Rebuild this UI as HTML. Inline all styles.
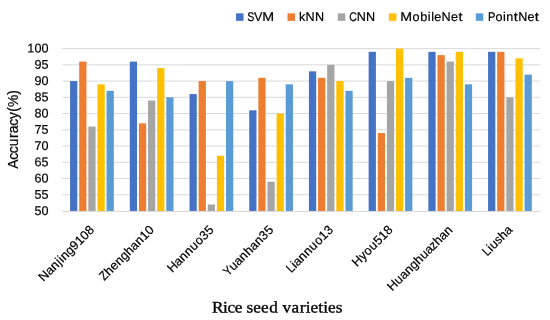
<!DOCTYPE html>
<html lang="en">
<head>
<meta charset="utf-8">
<title>Accuracy by rice seed variety</title>
<style>
html,body{margin:0;padding:0;background:#fff;}
body{width:550px;height:320px;overflow:hidden;}
svg{display:block;}
.t{font-family:"Liberation Sans",sans-serif;fill:#000;stroke:#000;stroke-width:0.2px;}
.s{font-family:"Liberation Serif",serif;fill:#000;stroke:#000;stroke-width:0.35px;}
</style>
</head>
<body>
<svg width="550" height="320" viewBox="0 0 550 320">
<rect width="550" height="320" fill="#ffffff"/>
<g stroke="#D9D9D9" stroke-width="1">
<line x1="62.30" y1="194.76" x2="540.00" y2="194.76"/>
<line x1="62.30" y1="178.52" x2="540.00" y2="178.52"/>
<line x1="62.30" y1="162.28" x2="540.00" y2="162.28"/>
<line x1="62.30" y1="146.04" x2="540.00" y2="146.04"/>
<line x1="62.30" y1="129.80" x2="540.00" y2="129.80"/>
<line x1="62.30" y1="113.56" x2="540.00" y2="113.56"/>
<line x1="62.30" y1="97.32" x2="540.00" y2="97.32"/>
<line x1="62.30" y1="81.08" x2="540.00" y2="81.08"/>
<line x1="62.30" y1="64.84" x2="540.00" y2="64.84"/>
<line x1="62.30" y1="48.60" x2="540.00" y2="48.60"/>
</g>
<g>
<rect x="70.08" y="81.08" width="7.25" height="129.92" fill="#4472C4"/>
<rect x="79.21" y="61.59" width="7.25" height="149.41" fill="#ED7D31"/>
<rect x="88.33" y="126.55" width="7.25" height="84.45" fill="#A5A5A5"/>
<rect x="97.46" y="84.33" width="7.25" height="126.67" fill="#FFC000"/>
<rect x="106.58" y="90.82" width="7.25" height="120.18" fill="#5B9BD5"/>
</g>
<g>
<rect x="129.79" y="61.59" width="7.25" height="149.41" fill="#4472C4"/>
<rect x="138.92" y="123.30" width="7.25" height="87.70" fill="#ED7D31"/>
<rect x="148.04" y="100.57" width="7.25" height="110.43" fill="#A5A5A5"/>
<rect x="157.17" y="68.09" width="7.25" height="142.91" fill="#FFC000"/>
<rect x="166.29" y="97.32" width="7.25" height="113.68" fill="#5B9BD5"/>
</g>
<g>
<rect x="189.51" y="94.07" width="7.25" height="116.93" fill="#4472C4"/>
<rect x="198.63" y="81.08" width="7.25" height="129.92" fill="#ED7D31"/>
<rect x="207.76" y="204.50" width="7.25" height="6.50" fill="#A5A5A5"/>
<rect x="216.88" y="155.78" width="7.25" height="55.22" fill="#FFC000"/>
<rect x="226.01" y="81.08" width="7.25" height="129.92" fill="#5B9BD5"/>
</g>
<g>
<rect x="249.22" y="110.31" width="7.25" height="100.69" fill="#4472C4"/>
<rect x="258.34" y="77.83" width="7.25" height="133.17" fill="#ED7D31"/>
<rect x="267.47" y="181.77" width="7.25" height="29.23" fill="#A5A5A5"/>
<rect x="276.59" y="113.56" width="7.25" height="97.44" fill="#FFC000"/>
<rect x="285.72" y="84.33" width="7.25" height="126.67" fill="#5B9BD5"/>
</g>
<g>
<rect x="308.93" y="71.34" width="7.25" height="139.66" fill="#4472C4"/>
<rect x="318.06" y="77.83" width="7.25" height="133.17" fill="#ED7D31"/>
<rect x="327.18" y="64.84" width="7.25" height="146.16" fill="#A5A5A5"/>
<rect x="336.31" y="81.08" width="7.25" height="129.92" fill="#FFC000"/>
<rect x="345.43" y="90.82" width="7.25" height="120.18" fill="#5B9BD5"/>
</g>
<g>
<rect x="368.64" y="51.85" width="7.25" height="159.15" fill="#4472C4"/>
<rect x="377.77" y="133.05" width="7.25" height="77.95" fill="#ED7D31"/>
<rect x="386.89" y="81.08" width="7.25" height="129.92" fill="#A5A5A5"/>
<rect x="396.02" y="48.60" width="7.25" height="162.40" fill="#FFC000"/>
<rect x="405.14" y="77.83" width="7.25" height="133.17" fill="#5B9BD5"/>
</g>
<g>
<rect x="428.36" y="51.85" width="7.25" height="159.15" fill="#4472C4"/>
<rect x="437.48" y="55.10" width="7.25" height="155.90" fill="#ED7D31"/>
<rect x="446.61" y="61.59" width="7.25" height="149.41" fill="#A5A5A5"/>
<rect x="455.73" y="51.85" width="7.25" height="159.15" fill="#FFC000"/>
<rect x="464.86" y="84.33" width="7.25" height="126.67" fill="#5B9BD5"/>
</g>
<g>
<rect x="488.07" y="51.85" width="7.25" height="159.15" fill="#4472C4"/>
<rect x="497.19" y="51.85" width="7.25" height="159.15" fill="#ED7D31"/>
<rect x="506.32" y="97.32" width="7.25" height="113.68" fill="#A5A5A5"/>
<rect x="515.44" y="58.34" width="7.25" height="152.66" fill="#FFC000"/>
<rect x="524.57" y="74.58" width="7.25" height="136.42" fill="#5B9BD5"/>
</g>
<line x1="62.30" y1="211.4" x2="540.00" y2="211.4" stroke="#CCCCCC" stroke-width="0.8"/>
<text class="t" transform="translate(48.70 214.90) rotate(0.03)" font-size="12.6" x="-14.31 -7.11" y="0">50</text>
<text class="t" transform="translate(48.70 198.66) rotate(0.03)" font-size="12.6" x="-14.31 -7.11" y="0">55</text>
<text class="t" transform="translate(48.70 182.42) rotate(0.03)" font-size="12.6" x="-14.31 -7.11" y="0">60</text>
<text class="t" transform="translate(48.70 166.18) rotate(0.03)" font-size="12.6" x="-14.31 -7.11" y="0">65</text>
<text class="t" transform="translate(48.70 149.94) rotate(0.03)" font-size="12.6" x="-14.31 -7.11" y="0">70</text>
<text class="t" transform="translate(48.70 133.70) rotate(0.03)" font-size="12.6" x="-14.31 -7.11" y="0">75</text>
<text class="t" transform="translate(48.70 117.46) rotate(0.03)" font-size="12.6" x="-14.31 -7.11" y="0">80</text>
<text class="t" transform="translate(48.70 101.22) rotate(0.03)" font-size="12.6" x="-14.31 -7.11" y="0">85</text>
<text class="t" transform="translate(48.70 84.98) rotate(0.03)" font-size="12.6" x="-14.31 -7.11" y="0">90</text>
<text class="t" transform="translate(48.70 68.74) rotate(0.03)" font-size="12.6" x="-14.31 -7.11" y="0">95</text>
<text class="t" transform="translate(48.70 52.50) rotate(0.03)" font-size="12.6" x="-21.51 -14.31 -7.11" y="0">100</text>
<text class="t" transform="translate(18.00 168.60) rotate(-90)" font-size="13.9" x="-0.15 8.78 15.33 22.29 30.62 35.48 42.86 49.65 56.88 61.54 73.93" y="0">Accuracy(%)</text>
<text class="t" transform="translate(95.06 230.60) rotate(-45)" font-size="12.6" x="-72.83 -63.81 -56.70 -49.18 -45.87 -42.63 -35.57 -28.64 -21.46 -14.28 -7.10" y="0">Nanjing9108</text>
<text class="t" transform="translate(154.77 230.60) rotate(-45)" font-size="12.6" x="-71.34 -64.42 -57.17 -49.93 -42.87 -35.81 -28.70 -21.59 -14.28 -7.10" y="0"><tspan textLength="6.77" lengthAdjust="spacingAndGlyphs">Z</tspan>henghan10</text>
<text class="t" transform="translate(214.48 230.60) rotate(-45)" font-size="12.6" x="-59.90 -51.04 -43.93 -36.49 -29.06 -21.60 -14.28 -7.10" y="0">Hannuo35</text>
<text class="t" transform="translate(274.19 230.60) rotate(-45)" font-size="12.6" x="-64.80 -57.48 -50.36 -43.25 -35.81 -28.70 -21.59 -14.28 -7.10" y="0"><tspan textLength="7.31" lengthAdjust="spacingAndGlyphs">Y</tspan>uanhan35</text>
<text class="t" transform="translate(333.91 230.60) rotate(-45)" font-size="12.6" x="-60.24 -53.96 -51.04 -43.93 -36.49 -29.06 -21.60 -14.28 -7.10" y="0"><tspan textLength="6.17" lengthAdjust="spacingAndGlyphs">L</tspan>iannuo13</text>
<text class="t" transform="translate(393.62 230.60) rotate(-45)" font-size="12.6" x="-51.84 -42.81 -36.22 -28.77 -21.46 -14.28 -7.10" y="0">Hyou518</text>
<text class="t" transform="translate(453.33 230.60) rotate(-45)" font-size="12.6" x="-86.22 -77.04 -69.93 -62.82 -55.76 -48.71 -41.27 -34.16 -27.30 -21.45 -14.34 -7.22" y="0">Huanghua<tspan textLength="5.67" lengthAdjust="spacingAndGlyphs">z</tspan>han</text>
<text class="t" transform="translate(513.04 230.60) rotate(-45)" font-size="12.6" x="-36.51 -30.22 -26.99 -19.83 -14.01 -6.90" y="0"><tspan textLength="6.17" lengthAdjust="spacingAndGlyphs">L</tspan>iu<tspan textLength="5.67" lengthAdjust="spacingAndGlyphs">s</tspan>ha</text>
<text class="s" transform="translate(212.40 312.40) rotate(0.03) scale(1.07 1)" font-size="16.1" x="-0.37 9.93 14.09 20.99 28.00 31.92 38.23 45.39 53.09 61.54 65.62 74.03 81.62 87.19 91.61 98.97 103.58 108.00 115.19" y="0">Rice seed varieties</text>
<rect x="236.0" y="13.35" width="7.5" height="7.5" fill="#4472C4"/>
<text class="t" transform="translate(247.70 21.00) rotate(0.03)" font-size="12.6" x="-0.34 6.24 14.52" y="0"><tspan textLength="7.14" lengthAdjust="spacingAndGlyphs">S</tspan>V<tspan textLength="11.86" lengthAdjust="spacingAndGlyphs">M</tspan></text>
<rect x="287.5" y="13.35" width="7.5" height="7.5" fill="#ED7D31"/>
<text class="t" transform="translate(298.90 21.00) rotate(0.03)" font-size="12.6" x="0.15 6.73 16.10" y="0">kNN</text>
<rect x="337.8" y="13.35" width="7.5" height="7.5" fill="#A5A5A5"/>
<text class="t" transform="translate(349.20 21.00) rotate(0.03)" font-size="12.6" x="-0.06 7.67 16.90" y="0"><tspan textLength="7.73" lengthAdjust="spacingAndGlyphs">C</tspan>NN</text>
<rect x="388.9" y="13.35" width="7.5" height="7.5" fill="#FFC000"/>
<text class="t" transform="translate(399.90 21.00) rotate(0.03)" font-size="12.6" x="0.27 12.72 20.35 27.92 31.24 34.41 41.66 51.00 58.53" y="0"><tspan textLength="11.86" lengthAdjust="spacingAndGlyphs">M</tspan>obileNe<tspan textLength="4.03" lengthAdjust="spacingAndGlyphs">t</tspan></text>
<rect x="475.8" y="13.35" width="7.5" height="7.5" fill="#5B9BD5"/>
<text class="t" transform="translate(488.10 21.00) rotate(0.03)" font-size="12.6" x="-0.04 7.53 14.98 18.21 25.78 30.18 39.31 46.69" y="0"><tspan textLength="7.40" lengthAdjust="spacingAndGlyphs">P</tspan>oin<tspan textLength="4.03" lengthAdjust="spacingAndGlyphs">t</tspan>Ne<tspan textLength="4.03" lengthAdjust="spacingAndGlyphs">t</tspan></text>
</svg>
</body>
</html>
